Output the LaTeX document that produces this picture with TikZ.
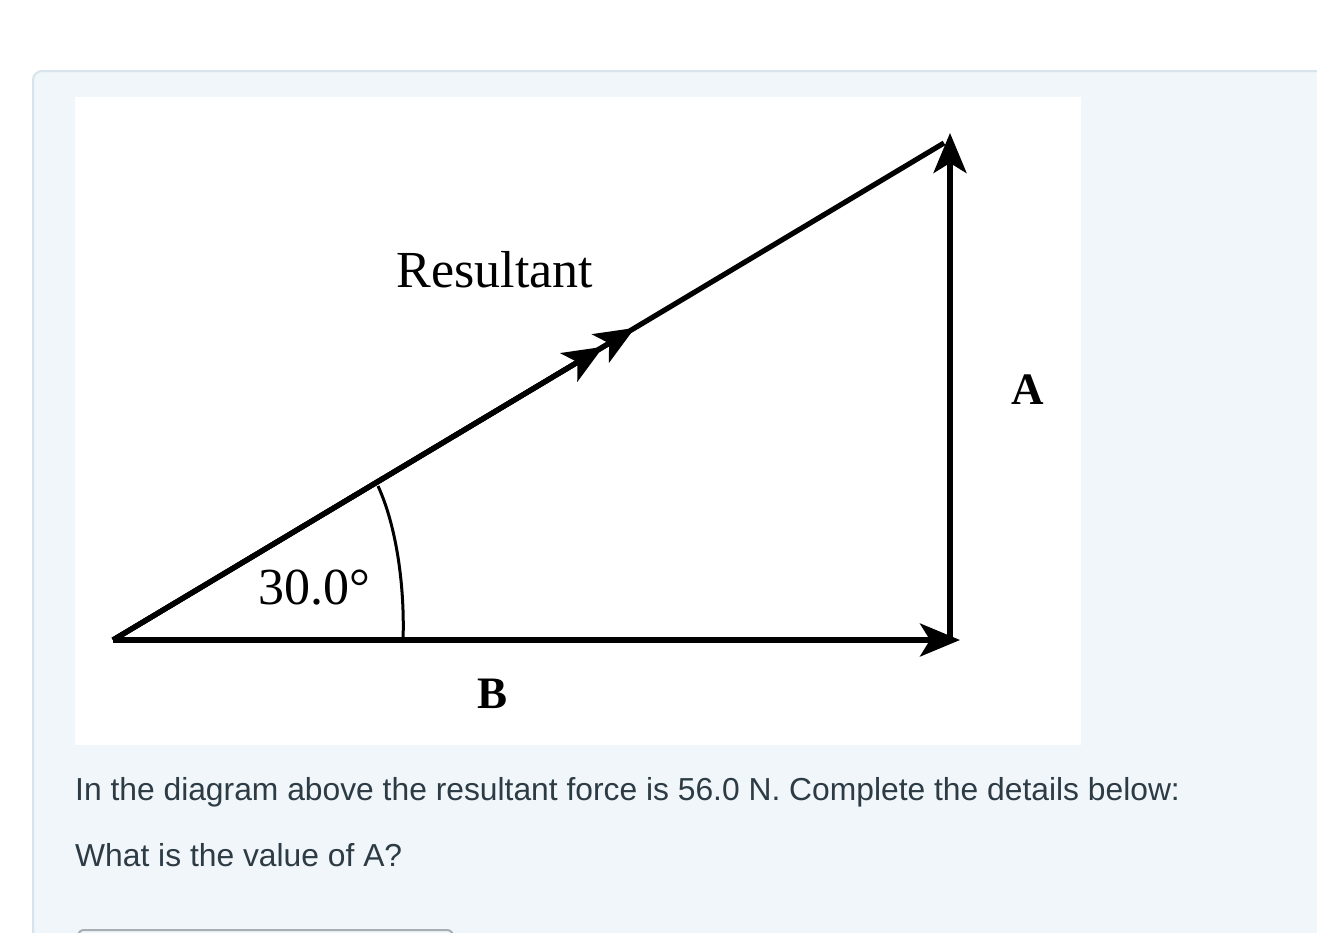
\documentclass[tikz,border=0pt]{standalone}
\usepackage{fontspec}
\setmainfont{Liberation Serif}
\setsansfont{Liberation Sans}
\usetikzlibrary{arrows.meta}
\definecolor{panelbg}{HTML}{F0F6FA}
\definecolor{panelline}{HTML}{D8E4EC}
\definecolor{boxline}{HTML}{A5AFB5}
\definecolor{bodytext}{HTML}{2D3B45}

\begin{document}
\begin{tikzpicture}[x=1pt, y=-1pt,
    vec/.style = {line width=5.2pt, -{Stealth[length=40pt, width=33pt, inset=10pt]}},
    seg/.style = {line width=5.2pt},
    lbl/.style = {font=\fontsize{52}{60}\selectfont, text=black, inner sep=0pt},
    bold/.style = {font=\fontsize{45}{52}\selectfont\bfseries, text=black, inner sep=0pt},
    body/.style = {font=\sffamily\fontsize{31.8}{38}\selectfont, text=bodytext,
                   anchor=base west, inner sep=0pt}
                    ]
    \useasboundingbox (0,0) rectangle (1317,932);
    \clip (0,0) rectangle (1317,932);
    % panel and picture box
    \filldraw[fill=panelbg, draw=panelline, line width=2pt, rounded corners=9pt]
        (33,71) rectangle (1340,960);
    \fill[white] (75,97) rectangle (1081,745);
    \def\ox{113}
    \def\oy{640}
    \def\cx{950}
    \def\ty{133}
    \coordinate (o) at (\ox,\oy);
    \coordinate (c) at (\cx,\oy);
    \coordinate (b) at (960,\oy);
    \coordinate (t) at (\cx,\ty);
    \coordinate (h) at (944,143);
    \path (o) -- (h) coordinate[pos=0.59] (m1) coordinate[pos=0.628] (m2);
    % vectors
    \draw[vec] (o) -- (b);
    \draw[vec] (c) -- (t);
    \draw[seg] (o) -- (h);
    \draw[vec] (o) -- (m1);
    \draw[vec] (o) -- (m2);
    % angle mark
    \draw[line width=3pt] (403,641) .. controls (405,585) and (396,525) .. (378,486);
    \node[lbl] (res) at (495,270) {Resultant};
    \node[lbl] (ang) at (314,588) {30.0°};
    \node[bold] (alab) at (1028,390) {A};
    \node[bold] (blab) at (493,694) {B};
    % question text
    \node[body] (q1) at (75,800) {In the diagram above the resultant force is 56.0 N. Complete the details below:};
    \node[body] (q2) at (75,866) {What is the value of A?};
    \draw[boxline, line width=2pt, rounded corners=6pt] (78,930) rectangle (453,990);
\end{tikzpicture}
\end{document}
